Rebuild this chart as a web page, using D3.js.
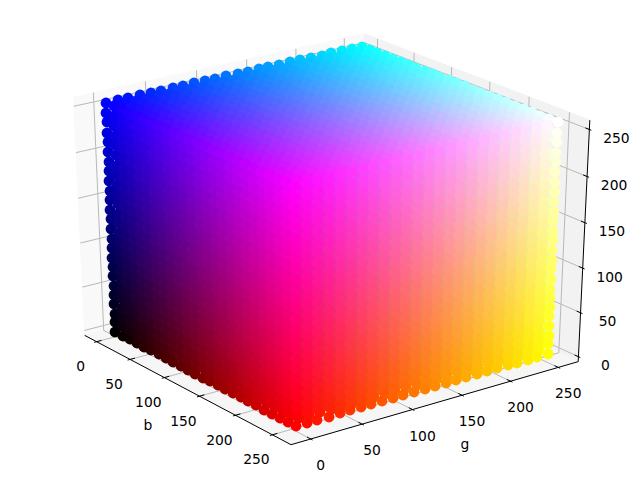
<!DOCTYPE html>
<html><head><meta charset="utf-8"><style>html,body{margin:0;background:#fff}svg{display:block}</style></head>
<body><svg id="chart" width="640" height="477"></svg>
<script src="https://cdn.jsdelivr.net/npm/d3@7"></script>
<script>
// Data
const channelLevels=[0,11,21,32,43,53,64,74,85,96,106,117,128,138,149,159,170,181,191,202,213,223,234,244,255];
const tickValues=[0,50,100,150,200,250];
const xLabelName="b", yLabelName="g";
// Camera
const azim=-36.73, elev=26.91, dist=10;
const W=640,H=477, sx=3606.08, sy=2689.23, ox=329.23, oy=231.14;
const xs=d3.scaleLinear().domain([-18.15,274.8]).range([0,1]);
const ys=d3.scaleLinear().domain([-18.94,271.15]).range([0,1]);
const zs=d3.scaleLinear().domain([-5.7,259.85]).range([0,1]);
const [xl,xh]=xs.domain(),[yl,yh]=ys.domain(),[zl,zh]=zs.domain();
const az=azim*Math.PI/180, el=elev*Math.PI/180;
const N=[Math.cos(el)*Math.cos(az),Math.cos(el)*Math.sin(az),Math.sin(el)];
const U=[-Math.sin(az),Math.cos(az),0];
const V=[N[1]*U[2]-N[2]*U[1],N[2]*U[0]-N[0]*U[2],N[0]*U[1]-N[1]*U[0]];
const dot=(a,b)=>a[0]*b[0]+a[1]*b[1]+a[2]*b[2];
function project(x,y,z){
  const q=[xs(x)-.5,ys(y)-.5,zs(z)-.5];
  const w=dist-dot(N,q);
  return {px:ox+sx*dot(U,q)/w, py:oy-sy*dot(V,q)/w, depth:-10/w};
}
const svg=d3.select("#chart");
const line=d3.line().x(d=>d.px).y(d=>d.py);
const path=pts=>line(pts.map(p=>project(...p)))+"";
// Panes
const panes=[
 {c:"#f9f9f9",p:[[xl,yl,zl],[xl,yh,zl],[xl,yh,zh],[xl,yl,zh]]},
 {c:"#f2f2f2",p:[[xl,yh,zl],[xh,yh,zl],[xh,yh,zh],[xl,yh,zh]]},
 {c:"#f6f6f6",p:[[xl,yl,zl],[xh,yl,zl],[xh,yh,zl],[xl,yh,zl]]}];
svg.append("g").selectAll("path").data(panes).join("path")
  .attr("d",d=>path(d.p)+"Z").attr("fill",d=>d.c).attr("stroke",d=>d.c).attr("stroke-width",1);
// Grid
const grid=[];
tickValues.forEach(v=>{
  grid.push([[v,yl,zl],[v,yh,zl],[v,yh,zh]]);
  grid.push([[xh,v,zl],[xl,v,zl],[xl,v,zh]]);
  grid.push([[xh,yh,v],[xl,yh,v],[xl,yl,v]]);
});
svg.append("g").selectAll("path").data(grid).join("path")
  .attr("d",path).attr("fill","none").attr("stroke","#b8b8b8").attr("stroke-width",1);
// Axis lines
const axesLines=[[[xl,yl,zl],[xh,yl,zl]],[[xh,yl,zl],[xh,yh,zl]],[[xh,yh,zl],[xh,yh,zh]]];
svg.append("g").selectAll("path").data(axesLines).join("path")
  .attr("d",path).attr("fill","none").attr("stroke","#000").attr("stroke-width",1);
// Ticks
const dx=(xh-xl)/12,dy=(yh-yl)/12;
const ticks=[];
tickValues.forEach(v=>{
  ticks.push([[v,yl-.1*dy,zl],[v,yl+.2*dy,zl]]);
  ticks.push([[xh+.1*dx,v,zl],[xh-.2*dx,v,zl]]);
  ticks.push([[xh+.1*dx,yh,v],[xh-.2*dx,yh,v]]);
});
svg.append("g").selectAll("path").data(ticks).join("path")
  .attr("d",path).attr("fill","none").attr("stroke","#000").attr("stroke-width",1);
// Scatter
const points=[];
channelLevels.forEach(r=>channelLevels.forEach(g=>channelLevels.forEach(b=>{
  const P=project(r,g,b); points.push({r,g,b,...P});
})));
svg.append("g").selectAll("circle").data(points).join("circle")
  .attr("cx",d=>Math.round(d.px)).attr("cy",d=>Math.round(d.py)).attr("r",5.4)
  .attr("fill",d=>`rgb(${d.r},${d.g},${d.b})`);
// Labels
const font='"DejaVu Sans"';
function label(t,x,y){svg.append("text").attr("x",x).attr("y",y).attr("text-anchor","middle")
  .attr("dominant-baseline","central").attr("font-family",font).attr("font-size",13.89).attr("fill","#000").text(t);}
tickValues.forEach(v=>{
  let p=project(v,yl,zl); label(v,p.px-16,p.py+24.5);
  p=project(xh,v,zl); label(v,p.px+10,p.py+26);
  p=project(xh,yh,v); label(v,p.px+27,p.py+8.5);
});
label(xLabelName,148,425);
label(yLabelName,465,444);
</script></body></html>
